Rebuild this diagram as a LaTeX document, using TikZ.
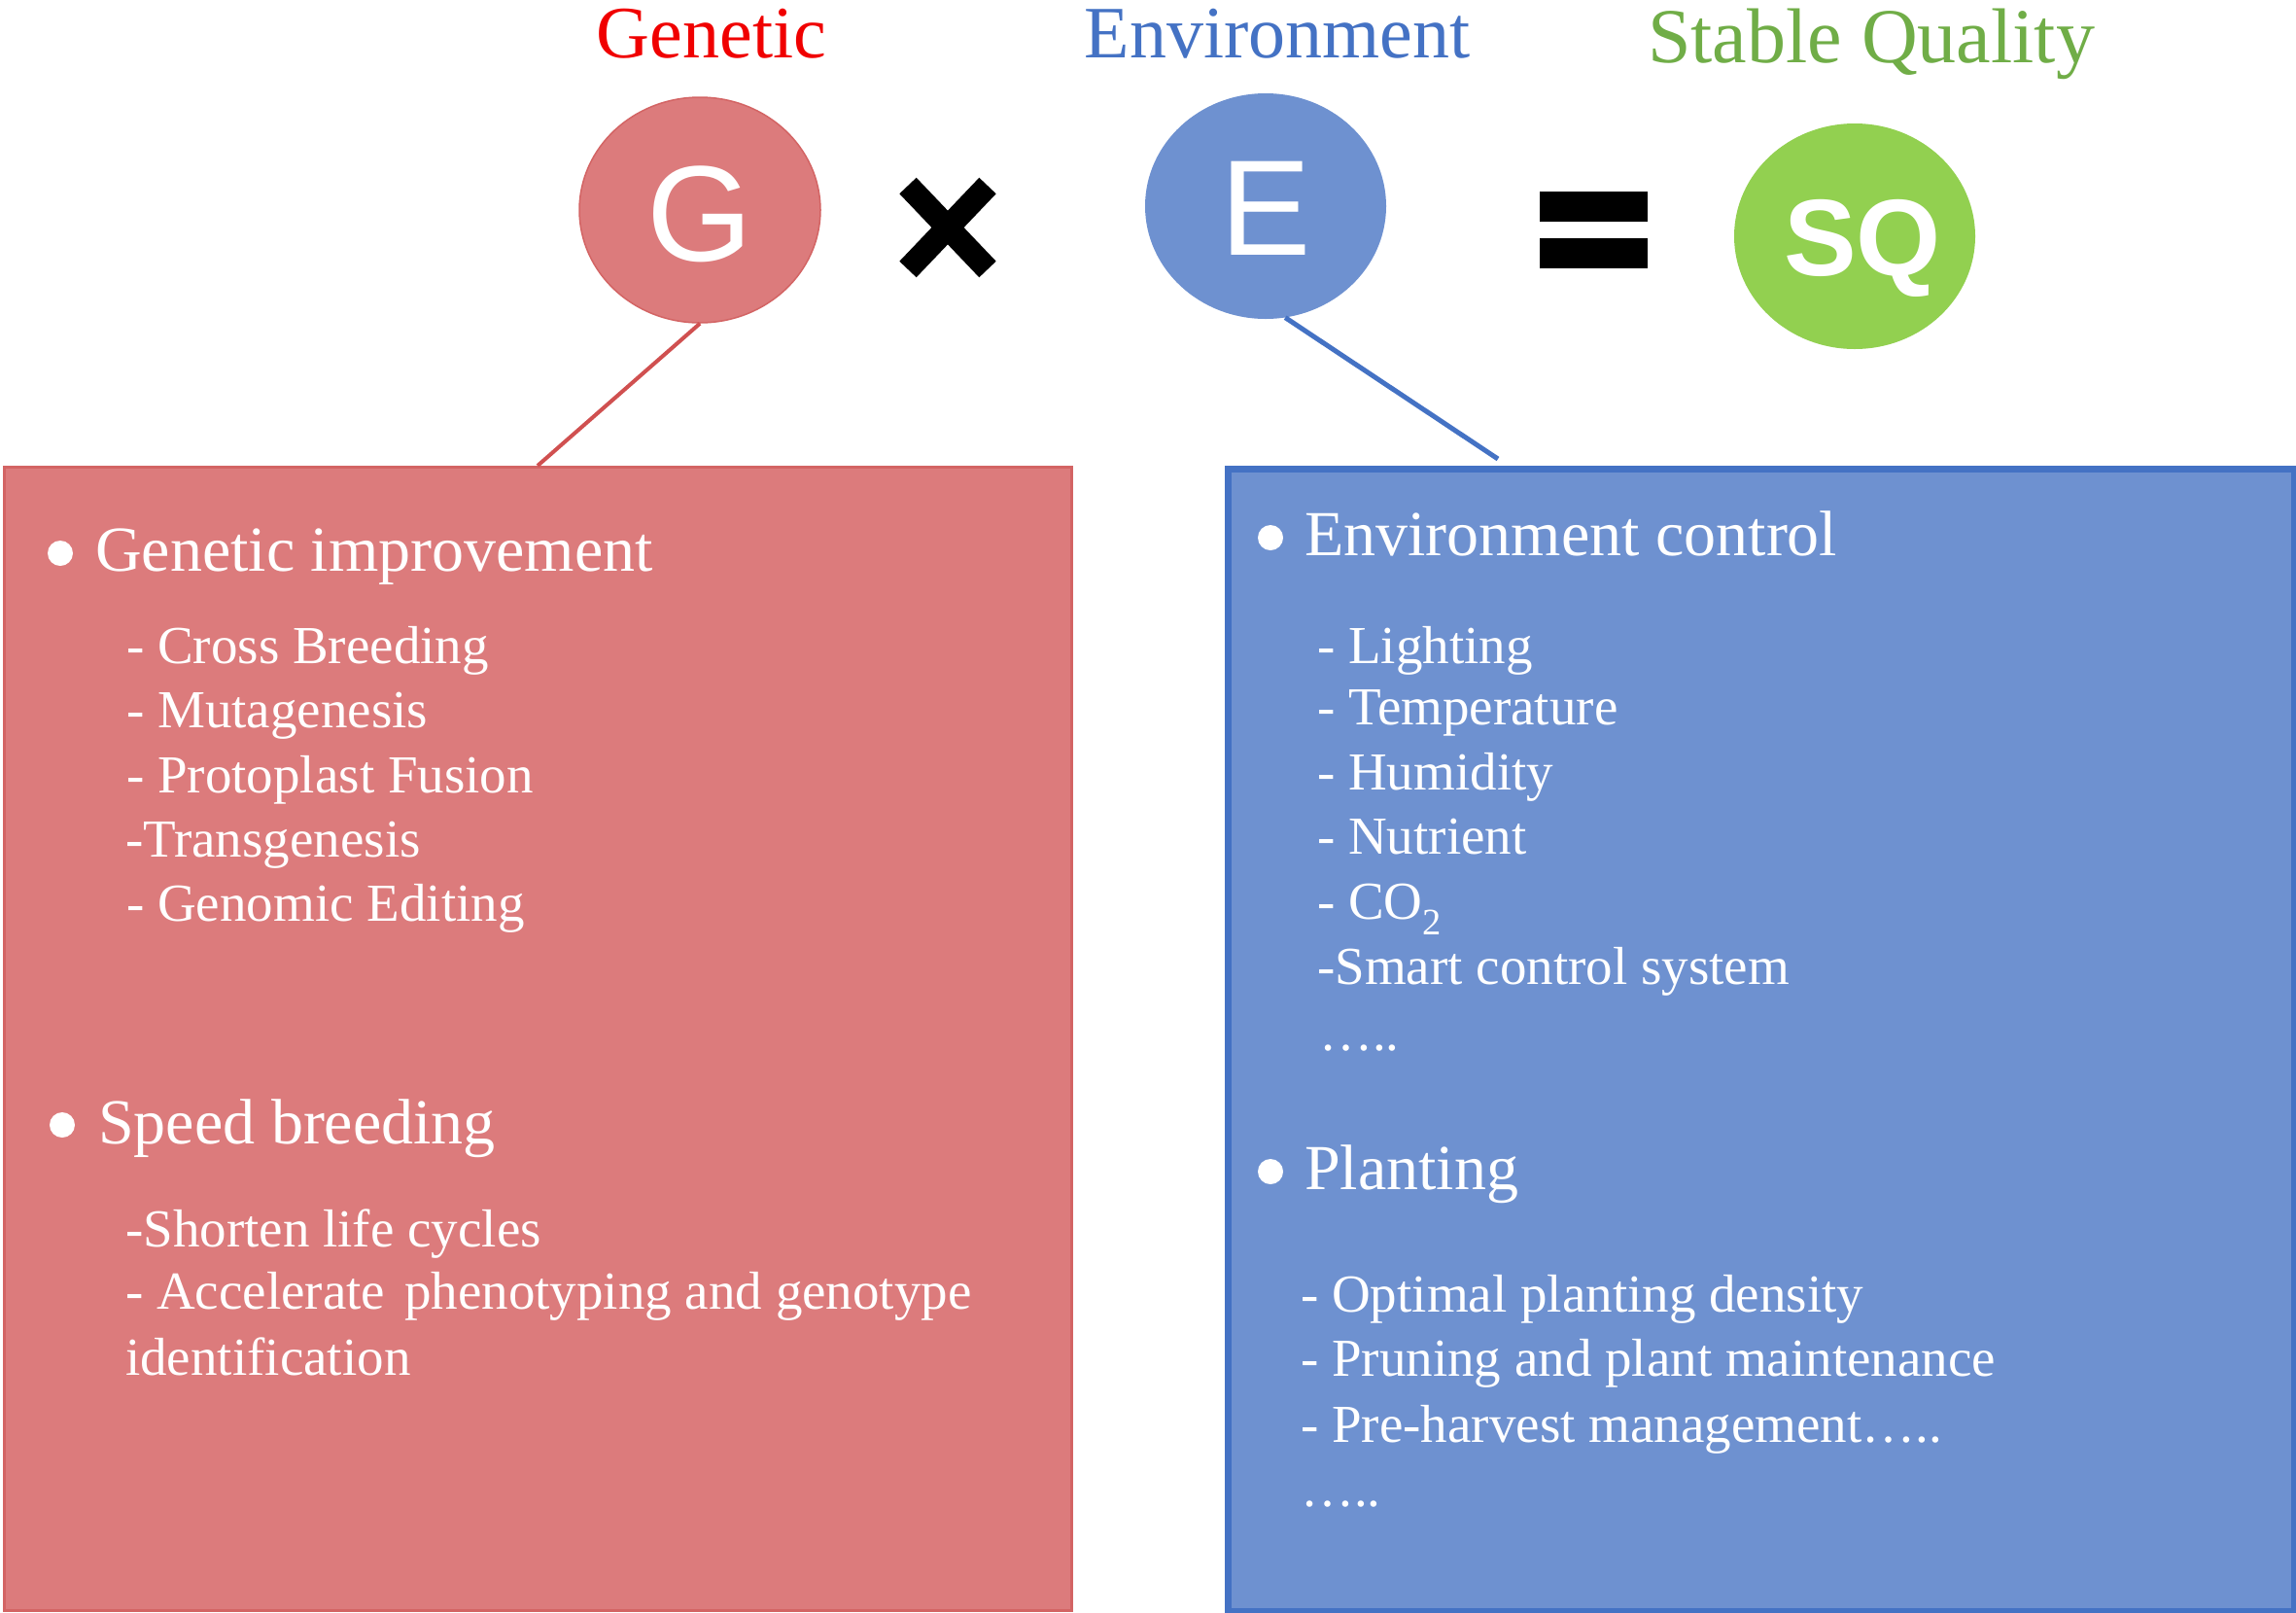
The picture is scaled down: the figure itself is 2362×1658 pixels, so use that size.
\documentclass[tikz,border=0pt]{standalone}
\usepackage{fontspec}
\setmainfont{Liberation Serif}
\newfontfamily\sansf{Liberation Sans}
\usetikzlibrary{shapes.geometric}
\newcommand\myfs[1]{\fontsize{#1}{#1}\selectfont}
\definecolor{gfill}{HTML}{DC7B7C}
\definecolor{gedge}{HTML}{D36464}
\definecolor{gline}{HTML}{D05050}
\definecolor{efill}{HTML}{6E91D0}
\definecolor{eedge}{HTML}{4472C4}
\definecolor{sqfill}{HTML}{92D050}
\definecolor{tred}{HTML}{F00000}
\definecolor{tblue}{HTML}{4472C4}
\definecolor{tgreen}{HTML}{70AD47}
\tikzset{
  title/.style={anchor=base, inner sep=0, font={\myfs{76}}},
  bigcirc/.style={ellipse, minimum width=248, minimum height=232, inner sep=0},
  letter/.style={anchor=base, inner sep=0, text=white, font={\sansf\myfs{140}}},
  head/.style={anchor=base west, inner sep=0, text=white, font={\myfs{66}}},
  item/.style={anchor=base west, inner sep=0, text=white, font={\myfs{55}}},
  bul/.style={circle, fill=white, minimum size=26, inner sep=0},
  gbox/.style={draw=gedge, line width=3, fill=gfill},
  ebox/.style={draw=eedge, line width=7, fill=efill},
}
\begin{document}
\begin{tikzpicture}[x=1pt, y=-1pt]
\useasboundingbox (0,0) rectangle (2362,1658);
% titles
\node[title, text=tred] (tg) at (732,59) {Genetic};
\node[title, text=tblue] (te) at (1314,59) {Environment};
\node[title, text=tgreen, font={\myfs{80}}] (ts) at (1925,64) {Stable Quality};
% circles
\node[bigcirc, fill=gfill, draw=gedge, line width=1.5] (G) at (720,216) {};
\node[letter] (Gt) at (720,268) {G};
\node[bigcirc, fill=efill] (E) at (1302,212) {};
\node[letter] (Et) at (1302,262) {E};
\node[bigcirc, fill=sqfill] (SQ) at (1908,243) {};
\node[letter, font={\sansf\bfseries\myfs{112}}] (SQt) at (1916,283) {SQ};
% times and equals
\draw[line width=24, black] (934,191) -- (1016,277);
\draw[line width=24, black] (1016,191) -- (934,277);
\fill[black] (1584,197) rectangle (1695,228);
\fill[black] (1584,245) rectangle (1695,276);
% boxes
\node[gbox, minimum width=1098, minimum height=1176, inner sep=0, anchor=north west] (gb) at (3,479) {};
\node[ebox, minimum width=1097, minimum height=1175, inner sep=0, anchor=north west] (eb) at (1260,479) {};
% connectors
\coordinate (gl) at (553,479);
\coordinate (el) at (1541,472);
\draw[gline, line width=4] (G.south) -- (gl);
\draw[eedge, line width=5] (E.-80) -- (el);
% red box text
\node[bul] (b1) at (62,569) {};
\node[head] (h1) at (98,587) {Genetic improvement};
\node[item] (i1) at (130,682) {- Cross Breeding};
\node[item] (i2) at (130,748) {- Mutagenesis};
\node[item] (i3) at (130,815) {- Protoplast Fusion};
\node[item] (i4) at (129,881) {-Transgenesis};
\node[item] (i5) at (130,947) {- Genomic Editing};
\node[bul] (b2) at (64,1157) {};
\node[head] (h2) at (101,1176) {Speed breeding};
\node[item] (i6) at (129,1282) {-Shorten life cycles};
\node[item] (i7) at (129,1346) {- Accelerate\hspace{6pt} phenotyping and genotype};
\node[item] (i8) at (129,1414) {identification};
% blue box text
\node[bul] (b3) at (1307,553) {};
\node[head] (h3) at (1342,571) {Environment control};
\node[item] (j1) at (1355,682) {- Lighting};
\node[item] (j2) at (1355,745) {- Temperature};
\node[item] (j3) at (1355,812) {- Humidity};
\node[item] (j4) at (1355,878) {- Nutrient};
\node[item] (j5) at (1355,945) {- CO\textsubscript{2}};
\node[item] (j6) at (1355,1012) {-Smart control system};
\node[item] (j7) at (1357,1080) {…..};
\node[bul] (b4) at (1307,1205) {};
\node[head] (h4) at (1342,1223) {Planting};
\node[item] (j8) at (1338,1349) {- Optimal planting density};
\node[item] (j9) at (1338,1415) {- Pruning and plant maintenance};
\node[item] (j10) at (1338,1483) {- Pre-harvest management…..};
\node[item] (j11) at (1338,1549) {…..};
\end{tikzpicture}
\end{document}
